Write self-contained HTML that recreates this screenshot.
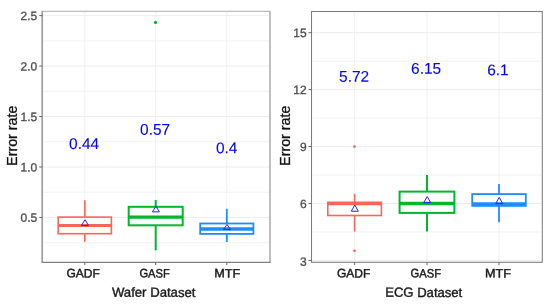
<!DOCTYPE html><html><head><meta charset="utf-8"><title>Boxplots</title>
<style>html,body{margin:0;padding:0;background:#fff}svg{display:block}text{font-family:"Liberation Sans",Arial,sans-serif}</style></head><body>
<svg width="550" height="304" viewBox="0 0 550 304">
<rect width="550" height="304" fill="#fff"/>
<line x1="42.2" x2="270.0" y1="40.835" y2="40.835" stroke="#F0F0F0" stroke-width="0.9"/>
<line x1="42.2" x2="270.0" y1="91.305" y2="91.305" stroke="#F0F0F0" stroke-width="0.9"/>
<line x1="42.2" x2="270.0" y1="141.775" y2="141.775" stroke="#F0F0F0" stroke-width="0.9"/>
<line x1="42.2" x2="270.0" y1="192.245" y2="192.245" stroke="#F0F0F0" stroke-width="0.9"/>
<line x1="42.2" x2="270.0" y1="242.715" y2="242.715" stroke="#F0F0F0" stroke-width="0.9"/>
<line x1="42.2" x2="270.0" y1="15.6" y2="15.6" stroke="#EDEDED" stroke-width="1"/>
<line x1="42.2" x2="270.0" y1="66.07" y2="66.07" stroke="#EDEDED" stroke-width="1"/>
<line x1="42.2" x2="270.0" y1="116.53999999999999" y2="116.53999999999999" stroke="#EDEDED" stroke-width="1"/>
<line x1="42.2" x2="270.0" y1="167.01" y2="167.01" stroke="#EDEDED" stroke-width="1"/>
<line x1="42.2" x2="270.0" y1="217.48" y2="217.48" stroke="#EDEDED" stroke-width="1"/>
<line x1="84.8" x2="84.8" y1="11.4" y2="262.3" stroke="#F1F1F1" stroke-width="1"/>
<line x1="155.7" x2="155.7" y1="11.4" y2="262.3" stroke="#F1F1F1" stroke-width="1"/>
<line x1="226.8" x2="226.8" y1="11.4" y2="262.3" stroke="#F1F1F1" stroke-width="1"/>
<g stroke="#FB6459" fill="none" stroke-width="1.6">
<line x1="84.8" x2="84.8" y1="200.2" y2="217.1"/><line x1="84.8" x2="84.8" y1="233.7" y2="241.7"/>
<rect x="58.199999999999996" y="217.1" width="53.2" height="16.599999999999994" fill="#fff"/>
<line x1="58.199999999999996" x2="111.4" y1="225.5" y2="225.5" stroke-width="3"/></g>
<g stroke="#00B62A" fill="none" stroke-width="2.0">
<line x1="155.7" x2="155.7" y1="200.0" y2="206.8"/><line x1="155.7" x2="155.7" y1="225.3" y2="250.3"/>
<rect x="128.7" y="206.8" width="54.0" height="18.5" fill="#fff"/>
<line x1="128.7" x2="182.7" y1="217.2" y2="217.2" stroke-width="3.3"/></g>
<g stroke="#1E8CFF" fill="none" stroke-width="1.8">
<line x1="226.8" x2="226.8" y1="208.8" y2="223.5"/><line x1="226.8" x2="226.8" y1="233.9" y2="242.0"/>
<rect x="200.20000000000002" y="223.5" width="53.2" height="10.400000000000006" fill="#fff"/>
<line x1="200.20000000000002" x2="253.4" y1="229.0" y2="229.0" stroke-width="3.4"/></g>
<path d="M85.0 219.7 L88.5 225.45 L81.5 225.45 Z" fill="none" stroke="#2222FF" stroke-width="1"/>
<path d="M155.89999999999998 206.2 L159.39999999999998 211.85 L152.39999999999998 211.85 Z" fill="none" stroke="#2222FF" stroke-width="1"/>
<path d="M227.0 224.5 L230.5 229.45 L223.5 229.45 Z" fill="none" stroke="#2222FF" stroke-width="1"/>
<circle cx="155.5" cy="22.4" r="1.6" fill="#00B62A"/>
<text transform="translate(84.1,149.1) rotate(0.2) scale(0.995,1)" font-size="15.5" fill="#0000FF" stroke="#0000FF" stroke-width="0.1" text-anchor="middle">0.44</text>
<text transform="translate(155.1,134.8) rotate(0.2) scale(0.995,1)" font-size="15.5" fill="#0000FF" stroke="#0000FF" stroke-width="0.1" text-anchor="middle">0.57</text>
<text transform="translate(226.7,153.3) rotate(0.2) scale(0.995,1)" font-size="15.5" fill="#0000FF" stroke="#0000FF" stroke-width="0.1" text-anchor="middle">0.4</text>
<line x1="41.400000000000006" x2="270.6" y1="11.4" y2="11.4" stroke="#bcbcbc" stroke-width="1.1"/>
<line x1="270.0" x2="270.0" y1="11.4" y2="262.90000000000003" stroke="#9c9c9c" stroke-width="1.3"/>
<line x1="41.400000000000006" x2="270.6" y1="262.3" y2="262.3" stroke="#808080" stroke-width="1.3"/>
<line x1="42.2" x2="42.2" y1="11.4" y2="262.3" stroke="#9e9e9e" stroke-width="1.7"/>
<line x1="39.3" x2="42.2" y1="15.6" y2="15.6" stroke="#666" stroke-width="1"/>
<text transform="translate(37.3,20.0) rotate(0.2) scale(1,1)" font-size="12" fill="#4D4D4D" stroke="#4D4D4D" stroke-width="0.3" text-anchor="end">2.5</text>
<line x1="39.3" x2="42.2" y1="66.07" y2="66.07" stroke="#666" stroke-width="1"/>
<text transform="translate(37.3,70.47) rotate(0.2) scale(1,1)" font-size="12" fill="#4D4D4D" stroke="#4D4D4D" stroke-width="0.3" text-anchor="end">2.0</text>
<line x1="39.3" x2="42.2" y1="116.53999999999999" y2="116.53999999999999" stroke="#666" stroke-width="1"/>
<text transform="translate(37.3,120.94) rotate(0.2) scale(1,1)" font-size="12" fill="#4D4D4D" stroke="#4D4D4D" stroke-width="0.3" text-anchor="end">1.5</text>
<line x1="39.3" x2="42.2" y1="167.01" y2="167.01" stroke="#666" stroke-width="1"/>
<text transform="translate(37.3,171.41) rotate(0.2) scale(1,1)" font-size="12" fill="#4D4D4D" stroke="#4D4D4D" stroke-width="0.3" text-anchor="end">1.0</text>
<line x1="39.3" x2="42.2" y1="217.48" y2="217.48" stroke="#666" stroke-width="1"/>
<text transform="translate(37.3,221.88) rotate(0.2) scale(1,1)" font-size="12" fill="#4D4D4D" stroke="#4D4D4D" stroke-width="0.3" text-anchor="end">0.5</text>
<line x1="84.8" x2="84.8" y1="262.3" y2="265.1" stroke="#666" stroke-width="1"/>
<text transform="translate(83.1,277.4) rotate(0.2) scale(0.98,1)" font-size="12.2" fill="#1a1a1a" stroke="#1a1a1a" stroke-width="0.45" text-anchor="middle">GADF</text>
<line x1="155.7" x2="155.7" y1="262.3" y2="265.1" stroke="#666" stroke-width="1"/>
<text transform="translate(154.6,277.4) rotate(0.2) scale(0.915,1)" font-size="12.2" fill="#1a1a1a" stroke="#1a1a1a" stroke-width="0.45" text-anchor="middle">GASF</text>
<line x1="226.8" x2="226.8" y1="262.3" y2="265.1" stroke="#666" stroke-width="1"/>
<text transform="translate(227.3,277.4) rotate(0.2) scale(1.04,1)" font-size="12.2" fill="#1a1a1a" stroke="#1a1a1a" stroke-width="0.45" text-anchor="middle">MTF</text>
<text transform="translate(153.7,296.8) rotate(0.2) scale(0.99,1)" font-size="13.3" fill="#1a1a1a" stroke="#1a1a1a" stroke-width="0.4" text-anchor="middle">Wafer Dataset</text>
<text transform="translate(17.3,135.7) rotate(-90)" font-size="14.3" fill="#111" stroke="#111" stroke-width="0.3" text-anchor="middle">Error rate</text>
<line x1="311.5" x2="542.3" y1="61.17" y2="61.17" stroke="#F0F0F0" stroke-width="0.9"/>
<line x1="311.5" x2="542.3" y1="118.11" y2="118.11" stroke="#F0F0F0" stroke-width="0.9"/>
<line x1="311.5" x2="542.3" y1="175.05" y2="175.05" stroke="#F0F0F0" stroke-width="0.9"/>
<line x1="311.5" x2="542.3" y1="231.99" y2="231.99" stroke="#F0F0F0" stroke-width="0.9"/>
<line x1="311.5" x2="542.3" y1="32.7" y2="32.7" stroke="#EDEDED" stroke-width="1"/>
<line x1="311.5" x2="542.3" y1="89.64" y2="89.64" stroke="#EDEDED" stroke-width="1"/>
<line x1="311.5" x2="542.3" y1="146.57999999999998" y2="146.57999999999998" stroke="#EDEDED" stroke-width="1"/>
<line x1="311.5" x2="542.3" y1="203.51999999999998" y2="203.51999999999998" stroke="#EDEDED" stroke-width="1"/>
<line x1="311.5" x2="542.3" y1="260.46" y2="260.46" stroke="#EDEDED" stroke-width="1"/>
<line x1="354.6" x2="354.6" y1="11.5" y2="262.3" stroke="#F1F1F1" stroke-width="1"/>
<line x1="427" x2="427" y1="11.5" y2="262.3" stroke="#F1F1F1" stroke-width="1"/>
<line x1="499" x2="499" y1="11.5" y2="262.3" stroke="#F1F1F1" stroke-width="1"/>
<g stroke="#FB6459" fill="none" stroke-width="1.6">
<line x1="354.6" x2="354.6" y1="193.8" y2="202.3"/><line x1="354.6" x2="354.6" y1="215.5" y2="231.6"/>
<rect x="327.8" y="202.3" width="53.6" height="13.199999999999989" fill="#fff"/>
<line x1="327.8" x2="381.40000000000003" y1="203.6" y2="203.6" stroke-width="3.4"/></g>
<g stroke="#00B62A" fill="none" stroke-width="2.0">
<line x1="427" x2="427" y1="174.9" y2="191.6"/><line x1="427" x2="427" y1="212.9" y2="231.6"/>
<rect x="399.6" y="191.6" width="54.800000000000004" height="21.30000000000001" fill="#fff"/>
<line x1="399.6" x2="454.4" y1="203.5" y2="203.5" stroke-width="3.3"/></g>
<g stroke="#1E8CFF" fill="none" stroke-width="1.8">
<line x1="499" x2="499" y1="184.0" y2="194.1"/><line x1="499" x2="499" y1="205.8" y2="222.3"/>
<rect x="472.2" y="194.1" width="53.6" height="11.700000000000017" fill="#fff"/>
<line x1="472.2" x2="525.8" y1="204.2" y2="204.2" stroke-width="4"/></g>
<path d="M354.8 205 L358.3 211.25 L351.3 211.25 Z" fill="none" stroke="#2222FF" stroke-width="1"/>
<path d="M427.2 196.6 L430.7 202.65 L423.7 202.65 Z" fill="none" stroke="#2222FF" stroke-width="1"/>
<path d="M499.2 197.3 L502.7 203.65 L495.7 203.65 Z" fill="none" stroke="#2222FF" stroke-width="1"/>
<circle cx="354.4" cy="146.6" r="1.4" fill="#FB6459"/>
<circle cx="354.5" cy="250.8" r="1.4" fill="#FB6459"/>
<text transform="translate(354.1,81.7) rotate(0.2) scale(0.995,1)" font-size="15.5" fill="#0000FF" stroke="#0000FF" stroke-width="0.1" text-anchor="middle">5.72</text>
<text transform="translate(426.1,73.8) rotate(0.2) scale(0.995,1)" font-size="15.5" fill="#0000FF" stroke="#0000FF" stroke-width="0.1" text-anchor="middle">6.15</text>
<text transform="translate(497.9,75.3) rotate(0.2) scale(0.995,1)" font-size="15.5" fill="#0000FF" stroke="#0000FF" stroke-width="0.1" text-anchor="middle">6.1</text>
<rect x="311.5" y="11.5" width="230.79999999999995" height="250.8" fill="none" stroke="#7c7c7c" stroke-width="1.05"/>
<line x1="308.5" x2="311.5" y1="32.7" y2="32.7" stroke="#666" stroke-width="1"/>
<text transform="translate(306.6,37.1) rotate(0.2) scale(1,1)" font-size="12" fill="#4D4D4D" stroke="#4D4D4D" stroke-width="0.3" text-anchor="end">15</text>
<line x1="308.5" x2="311.5" y1="89.64" y2="89.64" stroke="#666" stroke-width="1"/>
<text transform="translate(306.6,94.04) rotate(0.2) scale(1,1)" font-size="12" fill="#4D4D4D" stroke="#4D4D4D" stroke-width="0.3" text-anchor="end">12</text>
<line x1="308.5" x2="311.5" y1="146.57999999999998" y2="146.57999999999998" stroke="#666" stroke-width="1"/>
<text transform="translate(306.6,150.98) rotate(0.2) scale(1,1)" font-size="12" fill="#4D4D4D" stroke="#4D4D4D" stroke-width="0.3" text-anchor="end">9</text>
<line x1="308.5" x2="311.5" y1="203.51999999999998" y2="203.51999999999998" stroke="#666" stroke-width="1"/>
<text transform="translate(306.6,207.92) rotate(0.2) scale(1,1)" font-size="12" fill="#4D4D4D" stroke="#4D4D4D" stroke-width="0.3" text-anchor="end">6</text>
<line x1="308.5" x2="311.5" y1="260.46" y2="260.46" stroke="#666" stroke-width="1"/>
<text transform="translate(306.6,265.75999999999993) rotate(0.2) scale(1,1)" font-size="12" fill="#4D4D4D" stroke="#4D4D4D" stroke-width="0.3" text-anchor="end">3</text>
<line x1="354.6" x2="354.6" y1="262.3" y2="265.1" stroke="#666" stroke-width="1"/>
<text transform="translate(353.6,277.4) rotate(0.2) scale(0.98,1)" font-size="12.2" fill="#1a1a1a" stroke="#1a1a1a" stroke-width="0.45" text-anchor="middle">GADF</text>
<line x1="427" x2="427" y1="262.3" y2="265.1" stroke="#666" stroke-width="1"/>
<text transform="translate(425.8,277.4) rotate(0.2) scale(0.915,1)" font-size="12.2" fill="#1a1a1a" stroke="#1a1a1a" stroke-width="0.45" text-anchor="middle">GASF</text>
<line x1="499" x2="499" y1="262.3" y2="265.1" stroke="#666" stroke-width="1"/>
<text transform="translate(498,277.4) rotate(0.2) scale(1.04,1)" font-size="12.2" fill="#1a1a1a" stroke="#1a1a1a" stroke-width="0.45" text-anchor="middle">MTF</text>
<text transform="translate(423.7,296.9) rotate(0.2) scale(0.985,1)" font-size="13.3" fill="#1a1a1a" stroke="#1a1a1a" stroke-width="0.4" text-anchor="middle">ECG Dataset</text>
<text transform="translate(290.3,135.7) rotate(-90)" font-size="14.3" fill="#111" stroke="#111" stroke-width="0.3" text-anchor="middle">Error rate</text>
</svg></body></html>
